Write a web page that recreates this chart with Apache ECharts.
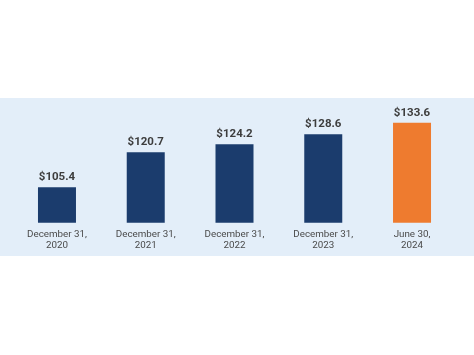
<!DOCTYPE html>
<html><head><meta charset="utf-8">
<script src="https://cdn.jsdelivr.net/npm/echarts@6/dist/echarts.min.js"></script>
<style>html,body{margin:0;padding:0;background:#fff}#c{width:474px;height:355px}</style>
</head><body><div id="c"></div>
<script>
const categories = ['December 31,\n2020', 'December 31,\n2021', 'December 31,\n2022', 'December 31,\n2023', 'June 30,\n2024'];
const values = [105.4, 120.7, 124.2, 128.6, 133.6];
const barColors = ['#1b3c6d', '#1b3c6d', '#1b3c6d', '#1b3c6d', '#ee7b2f'];

const chart = echarts.init(document.getElementById('c'), null, {renderer: 'canvas'});
chart.setOption({
  backgroundColor: '#ffffff',
  animation: false,
  graphic: [{
    type: 'rect', z: -10, silent: true,
    shape: {x: 0, y: 98, width: 474, height: 158},
    style: {fill: '#e3eef9'}
  }],
  grid: {left: 12.6, right: 17.6, top: 108, bottom: 132.3, containLabel: false},
  xAxis: {
    type: 'category', data: categories,
    axisLine: {show: false}, axisTick: {show: false},
    axisLabel: {color: '#4a4a4a', fontSize: 9.8, fontFamily: 'Roboto', lineHeight: 11.5, margin: 6}
  },
  yAxis: {type: 'value', min: 90, max: 140, show: false, splitLine: {show: false}},
  series: [{
    type: 'bar', barWidth: 38,
    data: values.map((v, i) => ({value: v, itemStyle: {color: barColors[i]}})),
    label: {
      show: true, position: 'top', distance: 4,
      formatter: p => '$' + p.value.toFixed(1),
      color: '#3d3d3d', fontSize: 11.5, fontWeight: 'bold', fontFamily: 'Roboto'
    }
  }]
});
</script></body></html>
